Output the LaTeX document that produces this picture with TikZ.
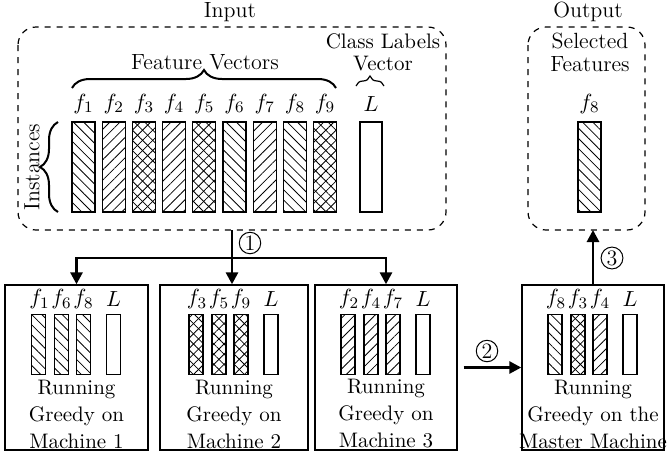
\documentclass[tikz,border=0pt]{standalone}
\usepackage{amsmath}
\usetikzlibrary{arrows.meta, patterns.meta, decorations.pathreplacing, calc}
\begin{document}
\begin{tikzpicture}[x=0.5pt, y=-0.5pt, font=\fontsize{11}{13.5}\selectfont,
    grp/.style={draw, dashed, rounded corners=9pt, line width=0.6pt},
    mach/.style={draw, line width=0.7pt},
    fbar/.style={draw, line width=0.6pt},
    nw/.style={pattern={Lines[angle=-45,distance=3.6pt,line width=0.4pt]}},
    ne/.style={pattern={Lines[angle=45,distance=3.6pt,line width=0.4pt]}},
    cx/.style={preaction={pattern={Lines[angle=45,distance=3.6pt,line width=0.4pt]}},
               pattern={Lines[angle=-45,distance=3.6pt,line width=0.4pt]}},
    flow/.style={line width=1.4pt, -{Triangle[length=6pt,width=6pt]}},
    num/.style={draw, circle, inner sep=0.6pt, line width=0.5pt, minimum size=9pt},
    lbl/.style={inner sep=1pt, align=center},
    run/.style={inner sep=1pt, align=center, font=\fontsize{10.5}{13.5}\selectfont}]
  \useasboundingbox (0,0) rectangle (669,456);
  % input and output groups
  \draw[grp] (18,27) rectangle (446,230);
  \coordinate (inbot) at (232,230);
  \node[lbl] (tin) at (230,12) {Input};
  \draw[grp] (528,27) rectangle (645,230);
  \coordinate (outbot) at (590,230);
  \node[lbl] (tout) at (588,12) {Output};
  \node[lbl] (sel) at (590,52) {Selected\\[-2pt]Features};
  \node[lbl, font=\fontsize{10.5}{13}\selectfont] (cls) at (383,52) {Class Labels\\[-2pt]Vector};
  \node[lbl] (fv) at (205,62) {Feature Vectors};
  \draw[decorate, decoration={brace, amplitude=9pt}, line width=1pt] (72,88) -- (336,88);
  \draw[decorate, decoration={brace, amplitude=5pt}, line width=0.6pt] (356,86) -- (384,86);
  \draw[decorate, decoration={brace, amplitude=9pt}, line width=1pt] (58,212) -- (58,122);
  \node[lbl, rotate=90] (inst) at (32,167) {Instances};
  % feature bars (pattern per feature)
  \foreach \i/\p in {1/nw, 2/ne, 3/cx, 4/ne, 5/cx, 6/nw, 7/ne, 8/nw, 9/cx} {
    \pgfmathsetmacro{\xl}{72+30.2*(\i-1)}
    \draw[fbar, \p] (\xl,122) rectangle ++(23,90);
    \node[lbl] at (\xl+11.5,104) {$f_{\i}$};
  }
  \draw[fbar] (360,122) rectangle (382,212);
  \node[lbl] at (371,104) {$L$};
  \draw[fbar, nw] (578,122) rectangle (601,212);
  \node[lbl] at (589.5,104) {$f_{8}$};
  % machines
  \foreach \n/\xa/\xb/\fa/\pa/\fb/\pb/\fc/\pc in {
      m1/5/148/1/nw/6/nw/8/nw,
      m2/160/308/3/cx/5/cx/9/cx,
      m3/315/457/2/ne/4/ne/7/ne,
      mm/522/664/8/nw/3/cx/4/ne} {
    \node[mach, minimum width=(\xb-\xa)*0.5pt, minimum height=82.5pt, inner sep=0pt]
      (\n) at ({(\xa+\xb)/2},367.5) {};
    \draw[fbar, \pa] ($(\n.north)+(-45,30)$) rectangle ++(14,60);
    \draw[fbar, \pb] ($(\n.north)+(-22,30)$) rectangle ++(14,60);
    \draw[fbar, \pc] ($(\n.north)+(0,30)$) rectangle ++(14,60);
    \draw[fbar] ($(\n.north)+(30,30)$) rectangle ++(14,60);
    \node[lbl] at ($(\n.north)+(-37,15)$) {$f_{\fa}$};
    \node[lbl] at ($(\n.north)+(-15,15)$) {$f_{\fb}$};
    \node[lbl] at ($(\n.north)+(7,15)$) {$f_{\fc}$};
    \node[lbl] at ($(\n.north)+(37,15)$) {$L$};
  }
  \node[run] at (76.5,414) {Running\\Greedy on\\Machine 1};
  \node[run] at (234,414) {Running\\Greedy on\\Machine 2};
  \node[run] at (386,414) {Running\\Greedy on\\Machine 3};
  \node[run] at (593,414) {Running\\Greedy on the\\Master Machine};
  % flow arrows
  \coordinate (split) at (232,258);
  \draw[flow] (inbot) -- (m2.north -| inbot);
  \draw[flow] (split) -| (m1.north);
  \draw[flow] (split) -| (m3.north);
  \node[num] (c1) at (250,243) {1};
  \draw[flow] (m3.east) ++(6,0) coordinate (a2) -- (mm.west);
  \node[num] (c2) at (487,351) {2};
  \draw[flow] (mm.north) -- (outbot -| mm.north);
  \node[num] (c3) at (612,258) {3};
\end{tikzpicture}
\end{document}
